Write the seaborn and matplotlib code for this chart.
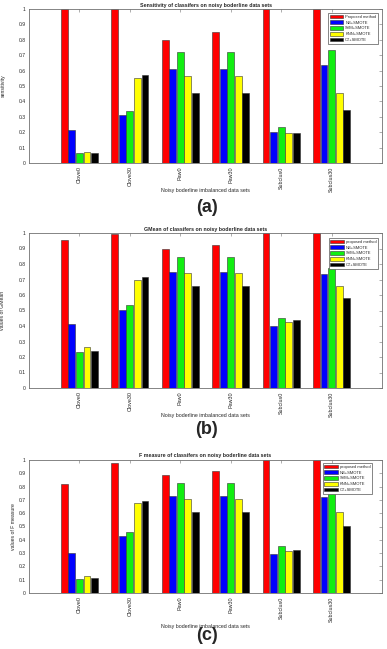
import numpy as np
import pandas as pd
import seaborn as sns
import matplotlib
matplotlib.use("Agg")
import matplotlib.pyplot as plt
from matplotlib.transforms import ScaledTranslation
from matplotlib.patches import Patch

# ---------------- data ----------------
datasets = ["Clove0", "Clove30", "Paw0", "Paw30", "Subclus0", "Subclus30"]
methods_a = ["Proposed method", "NB+SMOTE", "SVM+SMOTE", "KNN+SMOTE", "CT+SMOTE"]
methods_bc = ["proposed method", "NB+SMOTE", "SVM+SMOTE", "KNN+SMOTE", "CT+SMOTE"]
yticks = [0, 0.1, 0.2, 0.3, 0.4, 0.5, 0.6, 0.7, 0.8, 0.9, 1]
ytick_labels = ["0", "0.1", "0.2", "0.3", "0.4", "0.5", "0.6", "0.7", "0.8", "0.9", "1"]

sens_proposed = [1.0, 1.0, 0.80, 0.85, 1.0, 1.0]
sens_nb = [0.217, 0.31, 0.609, 0.609, 0.200, 0.635]
sens_svm = [0.063, 0.337, 0.718, 0.718, 0.235, 0.733]
sens_knn = [0.073, 0.550, 0.563, 0.563, 0.196, 0.454]
sens_ct = [0.065, 0.572, 0.454, 0.454, 0.196, 0.347]

gmean_proposed = [0.953, 0.994, 0.895, 0.923, 1.0, 1.0]
gmean_nb = [0.413, 0.504, 0.747, 0.747, 0.403, 0.735]
gmean_svm = [0.230, 0.533, 0.842, 0.842, 0.454, 0.774]
gmean_knn = [0.262, 0.700, 0.741, 0.741, 0.429, 0.655]
gmean_ct = [0.239, 0.717, 0.659, 0.659, 0.438, 0.580]

fm_proposed = [0.82, 0.98, 0.89, 0.92, 1.0, 1.0]
fm_nb = [0.300, 0.427, 0.727, 0.727, 0.290, 0.723]
fm_svm = [0.102, 0.457, 0.830, 0.830, 0.350, 0.750]
fm_knn = [0.130, 0.675, 0.710, 0.710, 0.317, 0.607]
fm_ct = [0.110, 0.692, 0.612, 0.612, 0.324, 0.503]

colors = ["#ff0000", "#0000ff", "#11ee11", "#ffff00", "#000000"]

titles = ["Sensitivity of classifers on noisy boderline data sets",
          "GMean of classifers on noisy boderline data sets",
          "F measure of classifers on noisy boderline data sets"]
ylabels = ["sensitivity", "values of GMean", "values of F measure"]
xlabel = "Noisy boderline imbalanced data sets"
panel_tags = ["(a)", "(b)", "(c)"]


def long_df(series, methods):
    rows = []
    for m, vals in zip(methods, series):
        for d, v in zip(datasets, vals):
            rows.append({"dataset": d, "method": m, "value": v})
    return pd.DataFrame(rows)


panels = [
    (long_df([sens_proposed, sens_nb, sens_svm, sens_knn, sens_ct], methods_a), methods_a),
    (long_df([gmean_proposed, gmean_nb, gmean_svm, gmean_knn, gmean_ct], methods_bc), methods_bc),
    (long_df([fm_proposed, fm_nb, fm_svm, fm_knn, fm_ct], methods_bc), methods_bc),
]

# ---------------- figure ----------------
sns.set_style("white")
plt.rcParams["font.family"] = ["Liberation Sans", "DejaVu Sans"]

W, H = 387, 649
fig = plt.figure(figsize=(W / 100, H / 100), dpi=100)

# axes boxes in pixels: (left, top, right, bottom)
boxes = [(29, 9, 382, 163), (29, 233, 382, 388), (29, 460, 382, 593)]
ylabel_x = [5.5, 5.5, 16.5]
xlabel_y = [191, 416, 627]
tag_y = [207, 430, 636]
legend_box = [(378, 13), (378, 238), (372, 463)]  # right, top in px

spine_col = "#707070"

for i, (df, methods) in enumerate(panels):
    l, t, r, b = boxes[i]
    ax = fig.add_axes([l / W, 1 - b / H, (r - l) / W, (b - t) / H])
    sns.barplot(data=df, x="dataset", y="value", hue="method",
                hue_order=methods, order=datasets, palette=colors,
                saturation=1, width=0.75, gap=0.1, edgecolor="#333333",
                linewidth=0.4, errorbar=None, legend=False, ax=ax, zorder=2)
    ax.set_xlim(-1, 6)
    ax.set_ylim(0, 1)
    ax.set_axisbelow(True)
    ax.set_yticks(yticks)
    ax.set_yticklabels(ytick_labels, fontsize=3.6)
    ax.set_xticks(range(len(datasets)))
    ax.set_xticklabels(datasets, fontsize=3.9, rotation=90, ha="center", va="top")
    off = ScaledTranslation(7 / 100, 0, fig.dpi_scale_trans)
    for lbl in ax.get_xticklabels():
        lbl.set_transform(lbl.get_transform() + off)
    ax.tick_params(axis="both", direction="in", length=2, width=0.4,
                   color=spine_col, top=True, right=True, pad=2.5)
    for s in ax.spines.values():
        s.set_visible(True)
        s.set_color(spine_col)
        s.set_linewidth(0.6)

    ax.set_title(titles[i], fontsize=3.8, fontweight="bold", pad=1.8)
    ax.set_ylabel(ylabels[i], fontsize=3.7)
    ax.yaxis.set_label_coords((ylabel_x[i] - l) / (r - l), 0.5)
    ax.set_xlabel(xlabel, fontsize=3.8)
    ax.xaxis.set_label_coords(0.5, (b - (xlabel_y[i] - 2.8)) / (b - t))

    handles = [Patch(facecolor=c, edgecolor="#333333", linewidth=0.4) for c in colors]
    lr, lt = legend_box[i]
    leg = ax.legend(handles, methods, loc="upper right",
                    bbox_to_anchor=((lr - l) / (r - l), (b - lt) / (b - t)),
                    fontsize=2.9, frameon=True, fancybox=False, framealpha=1,
                    borderpad=0.4, labelspacing=0.45, handlelength=3.3,
                    handleheight=0.9, handletextpad=0.5, borderaxespad=0)
    leg.get_frame().set_edgecolor("#555555")
    leg.get_frame().set_linewidth(0.5)

    fig.text(207 / W, 1 - tag_y[i] / H, panel_tags[i], fontsize=13,
             fontweight="bold", ha="center", va="center")

fig.savefig("out.png", dpi=100)
